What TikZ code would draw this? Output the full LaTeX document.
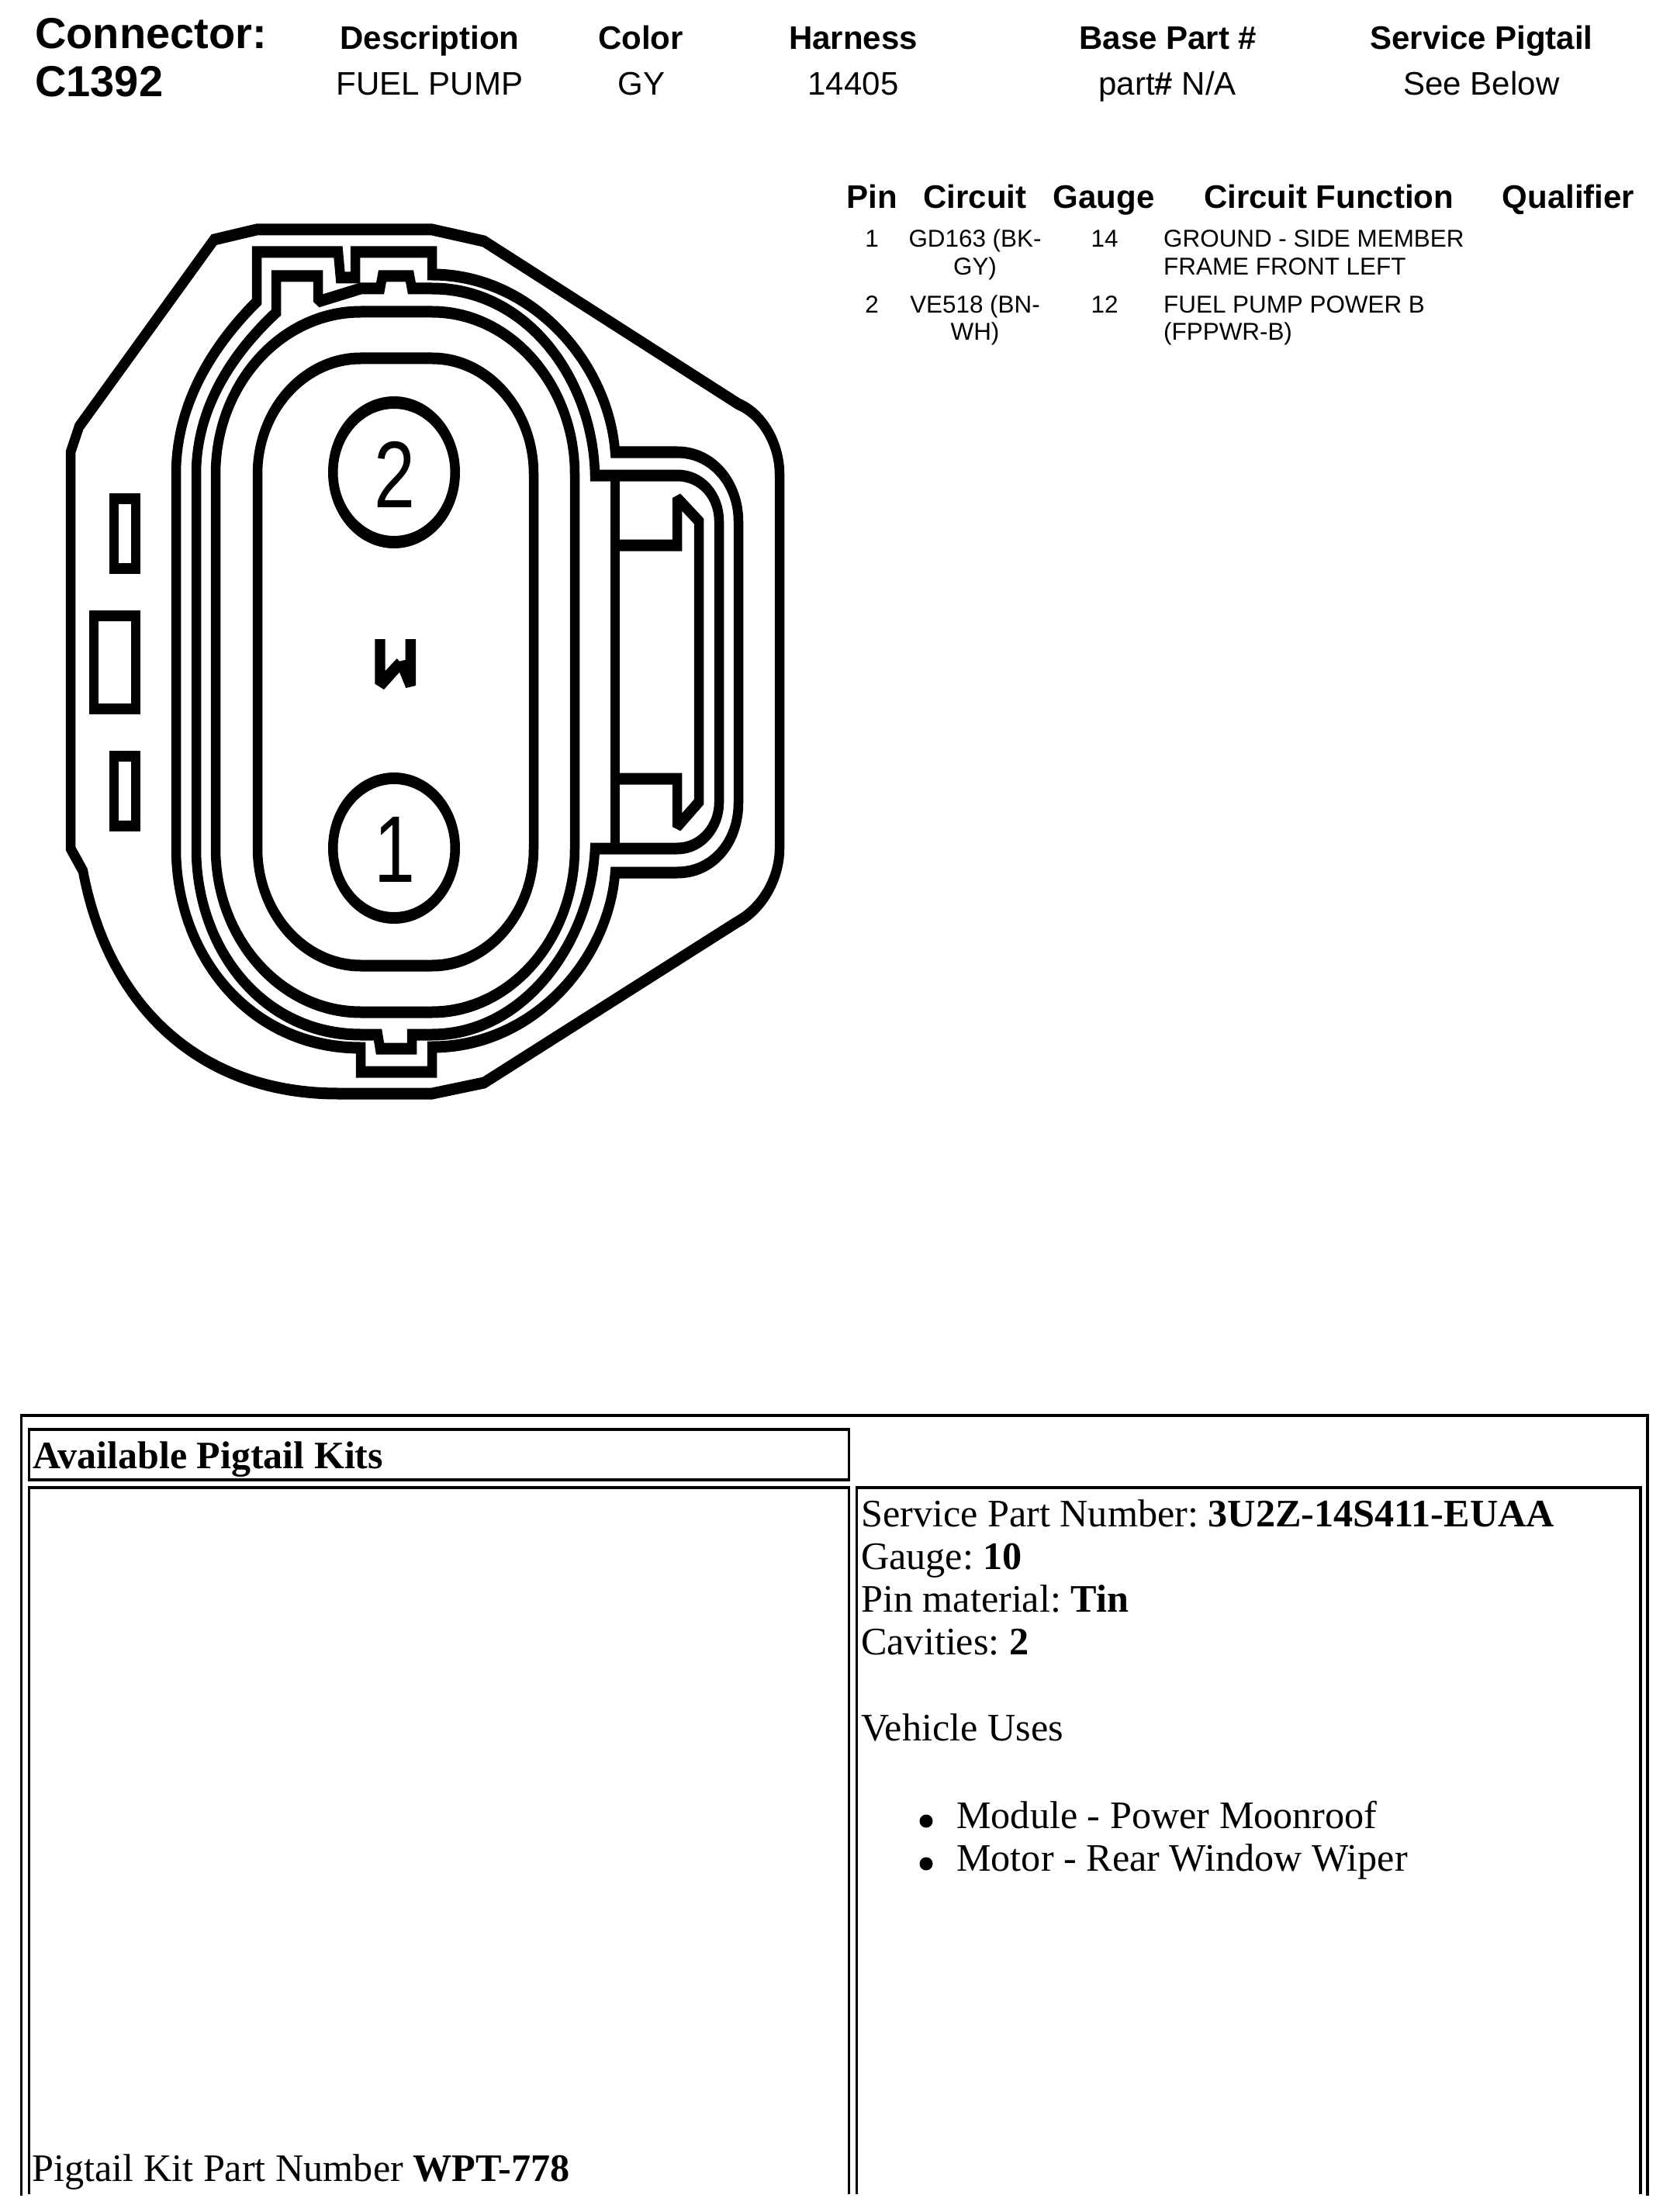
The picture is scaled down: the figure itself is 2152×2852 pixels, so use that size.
\documentclass[tikz,border=0pt]{standalone}
\usepackage{fontspec}
\usepackage{graphicx}
\setmainfont{Liberation Serif}
\setsansfont{Liberation Sans}
\frenchspacing
\tikzset{
  x=1pt,y=-1pt,
  hdr/.style={anchor=base,inner sep=0pt,font=\sffamily\bfseries\fontsize{42}{42}\selectfont},
  val/.style={anchor=base,inner sep=0pt,font=\sffamily\fontsize{42}{42}\selectfont},
  big/.style={anchor=base west,inner sep=0pt,font=\sffamily\bfseries\fontsize{56}{56}\selectfont},
  cell/.style={anchor=base,inner sep=0pt,font=\sffamily\fontsize{31.4}{35}\selectfont},
  cellw/.style={anchor=base west,inner sep=0pt,font=\sffamily\fontsize{31.4}{35}\selectfont},
  kit/.style={anchor=base west,inner sep=0pt,font=\rmfamily\fontsize{50.2}{55}\selectfont},
  kitb/.style={anchor=base west,inner sep=0pt,font=\rmfamily\bfseries\fontsize{50}{55}\selectfont},
  pinno/.style={anchor=base,inner sep=0pt,font=\sffamily\fontsize{122}{122}\selectfont},
  ink/.style={draw=black,line width=12.5pt,line join=miter,miter limit=1.5},
  slot/.style={draw=black,line width=12pt,line join=miter},
  frame/.style={draw=black,line width=3.8pt,line join=miter},
  stretched/.style={transform canvas={yscale=1.2},y=-0.83333pt},
}
\begin{document}
\begin{tikzpicture}
\useasboundingbox (0,0) rectangle (2152,2852);
\begin{scope}[stretched]
% outer housing
\draw[ink] (91,583) -- (102,550) -- (276,309) -- (331,296) -- (557,296) -- (624,311) -- (952,521)
  .. controls (985,535) and (1005,575) .. (1005,611) -- (1005,1094)
  .. controls (1005,1130) and (985,1170) .. (950,1189) -- (624,1396) -- (557,1410) -- (436,1410)
  .. controls (260,1410) and (140,1300) .. (107,1123) -- (91,1094) -- cycle;
% collar A
\draw[ink] (227,611) .. controls (227,525) and (270,450) .. (331,389) -- (331,325) -- (436,325) -- (439,358) -- (458,358) -- (458,325) -- (557,325) -- (557,354)
  .. controls (687,354) and (785,470) .. (793,583) -- (873,583)
  .. controls (920,583) and (952,625) .. (952,672) -- (952,1035)
  .. controls (952,1085) and (920,1125) .. (873,1125) -- (793,1125)
  .. controls (785,1235) and (690,1350) .. (557,1350) -- (557,1382) -- (465,1382) -- (465,1351)
  .. controls (320,1351) and (227,1230) .. (227,1094) -- cycle;
% collar B
\draw[ink] (253,611) .. controls (253,530) and (295,460) .. (356,403) -- (356,356) -- (410,356) -- (410,389) -- (465,372) -- (490,372) -- (493,356) -- (528,356) -- (531,372) -- (557,372)
  .. controls (680,372) and (765,490) .. (767,613) -- (873,613)
  .. controls (905,613) and (927,640) .. (927,672) -- (927,1035)
  .. controls (927,1065) and (905,1094) .. (873,1094) -- (767,1094)
  .. controls (762,1215) and (675,1334) .. (557,1334) -- (531,1334) -- (531,1352) -- (490,1352) -- (487,1334) -- (465,1334)
  .. controls (340,1334) and (253,1225) .. (253,1094) -- cycle;
% ring C
\draw[ink] (278,611) .. controls (278,496) and (362,402) .. (465,402) -- (557,402)
  .. controls (658,402) and (741,496) .. (741,611) -- (741,1094)
  .. controls (741,1210) and (658,1305) .. (557,1305) -- (465,1305)
  .. controls (362,1305) and (278,1210) .. (278,1094) -- cycle;
% ring D
\draw[ink] (332,611) .. controls (332,529) and (392,462) .. (465,462) -- (557,462)
  .. controls (629,462) and (688,529) .. (688,611) -- (688,1094)
  .. controls (688,1177) and (629,1245) .. (557,1245) -- (465,1245)
  .. controls (392,1245) and (332,1177) .. (332,1094) -- cycle;
% latch
\draw[ink] (793,613) -- (793,1094);
\draw[ink] (793,703) -- (873,703) -- (873,642) -- (901,672) -- (901,1034) -- (873,1066) -- (873,1004) -- (793,1004);
% slots
\draw[slot] (146.5,643) rectangle (175,733);
\draw[slot] (121,794) rectangle (175,914);
\draw[slot] (146.5,975) rectangle (175,1065);
\end{scope}
% cavities
\fill[black,even odd rule] (508,609) ellipse [x radius=85pt,y radius=98pt] (508,609) ellipse [x radius=72.5pt,y radius=82pt];
\fill[black,even odd rule] (508,1093.5) ellipse [x radius=85pt,y radius=97.5pt] (508,1093.5) ellipse [x radius=72.5pt,y radius=82.5pt];
\node[pinno] (p2) at (508.5,654) {\scalebox{0.78}[1]{2}};
\node[pinno] (p1) at (508.5,1137) {\scalebox{0.78}[1]{1}};
% keying mark
\fill[black] (483.3,824) -- (496.7,824) -- (496.7,865) -- (511.7,849) -- (515,852.7) -- (522.7,850.7) -- (522.7,824) -- (536,824) -- (536,884) -- (523.3,887) -- (515,866.7) -- (495,889) -- (483.3,881.7) -- cycle;
% header
\node[big] (con) at (45,63) {Connector:};
\node[big] (cid) at (45,125) {C1392};
\node[hdr] (h1) at (554,64) {Description};
\node[hdr] (h2) at (826,64) {Color};
\node[hdr] (h3) at (1100,64) {Harness};
\node[hdr] (h4) at (1506,64) {Base Part \#};
\node[hdr] (h5) at (1910,64) {Service Pigtail};
\node[val] (v1) at (554,123) {FUEL PUMP};
\node[val] (v2) at (827,123) {GY};
\node[val] (v3) at (1100,123) {14405};
\node[val] (v4) at (1505,123) {part\textbf{\#} N/A};
\node[val] (v5) at (1910,123) {See Below};
% pin table
\node[hdr] (t1) at (1124,269) {Pin};
\node[hdr] (t2) at (1257,269) {Circuit};
\node[hdr] (t3) at (1423,269) {Gauge};
\node[hdr] (t4) at (1713,269) {Circuit Function};
\node[hdr] (t5) at (2022,269) {Qualifier};
\node[cell] (r1a) at (1124,319) {1};
\node[cell] (r1b) at (1257,319) {GD163 (BK-};
\node[cell] (r1bb) at (1257,354) {GY)};
\node[cell] (r1c) at (1424,319) {14};
\node[cellw] (r1d) at (1500,319) {GROUND - SIDE MEMBER};
\node[cellw] (r1dd) at (1500,354) {FRAME FRONT LEFT};
\node[cell] (r2a) at (1124,403) {2};
\node[cell] (r2b) at (1257,403) {VE518 (BN-};
\node[cell] (r2bb) at (1257,438) {WH)};
\node[cell] (r2c) at (1424,403) {12};
\node[cellw] (r2d) at (1500,403) {FUEL PUMP POWER B};
\node[cellw] (r2dd) at (1500,438) {(FPPWR-B)};
% lower tables
\draw[frame] (27.5,2831) -- (27.5,1825) -- (2124,1825) -- (2124,2831);
\draw[frame] (37.5,1843) rectangle (1094.5,1908);
\draw[frame] (37.5,2829) -- (37.5,1918) -- (1094.5,1918) -- (1094.5,2829);
\draw[frame] (1104.5,2829) -- (1104.5,1918) -- (2115,1918) -- (2115,2829);
\node[kitb] (apk) at (42,1893) {Available Pigtail Kits};
\node[kit] (spn) at (1110,1968) {Service Part Number: \textbf{3U2Z-14S411-EUAA}};
\node[kit] (gau) at (1110,2023) {Gauge: \textbf{10}};
\node[kit] (pin) at (1110,2078) {Pin material: \textbf{Tin}};
\node[kit] (cav) at (1110,2133) {Cavities: \textbf{2}};
\node[kit] (veh) at (1110,2244) {Vehicle Uses};
\fill[black] (1194,2348) circle [radius=8.5pt];
\fill[black] (1194,2403) circle [radius=8.5pt];
\node[kit] (u1) at (1233,2357) {Module - Power Moonroof};
\node[kit] (u2) at (1233,2412) {Motor - Rear Window Wiper};
\node[kit] (pgt) at (41.5,2812) {Pigtail Kit Part Number \textbf{WPT-778}};
\end{tikzpicture}
\end{document}
